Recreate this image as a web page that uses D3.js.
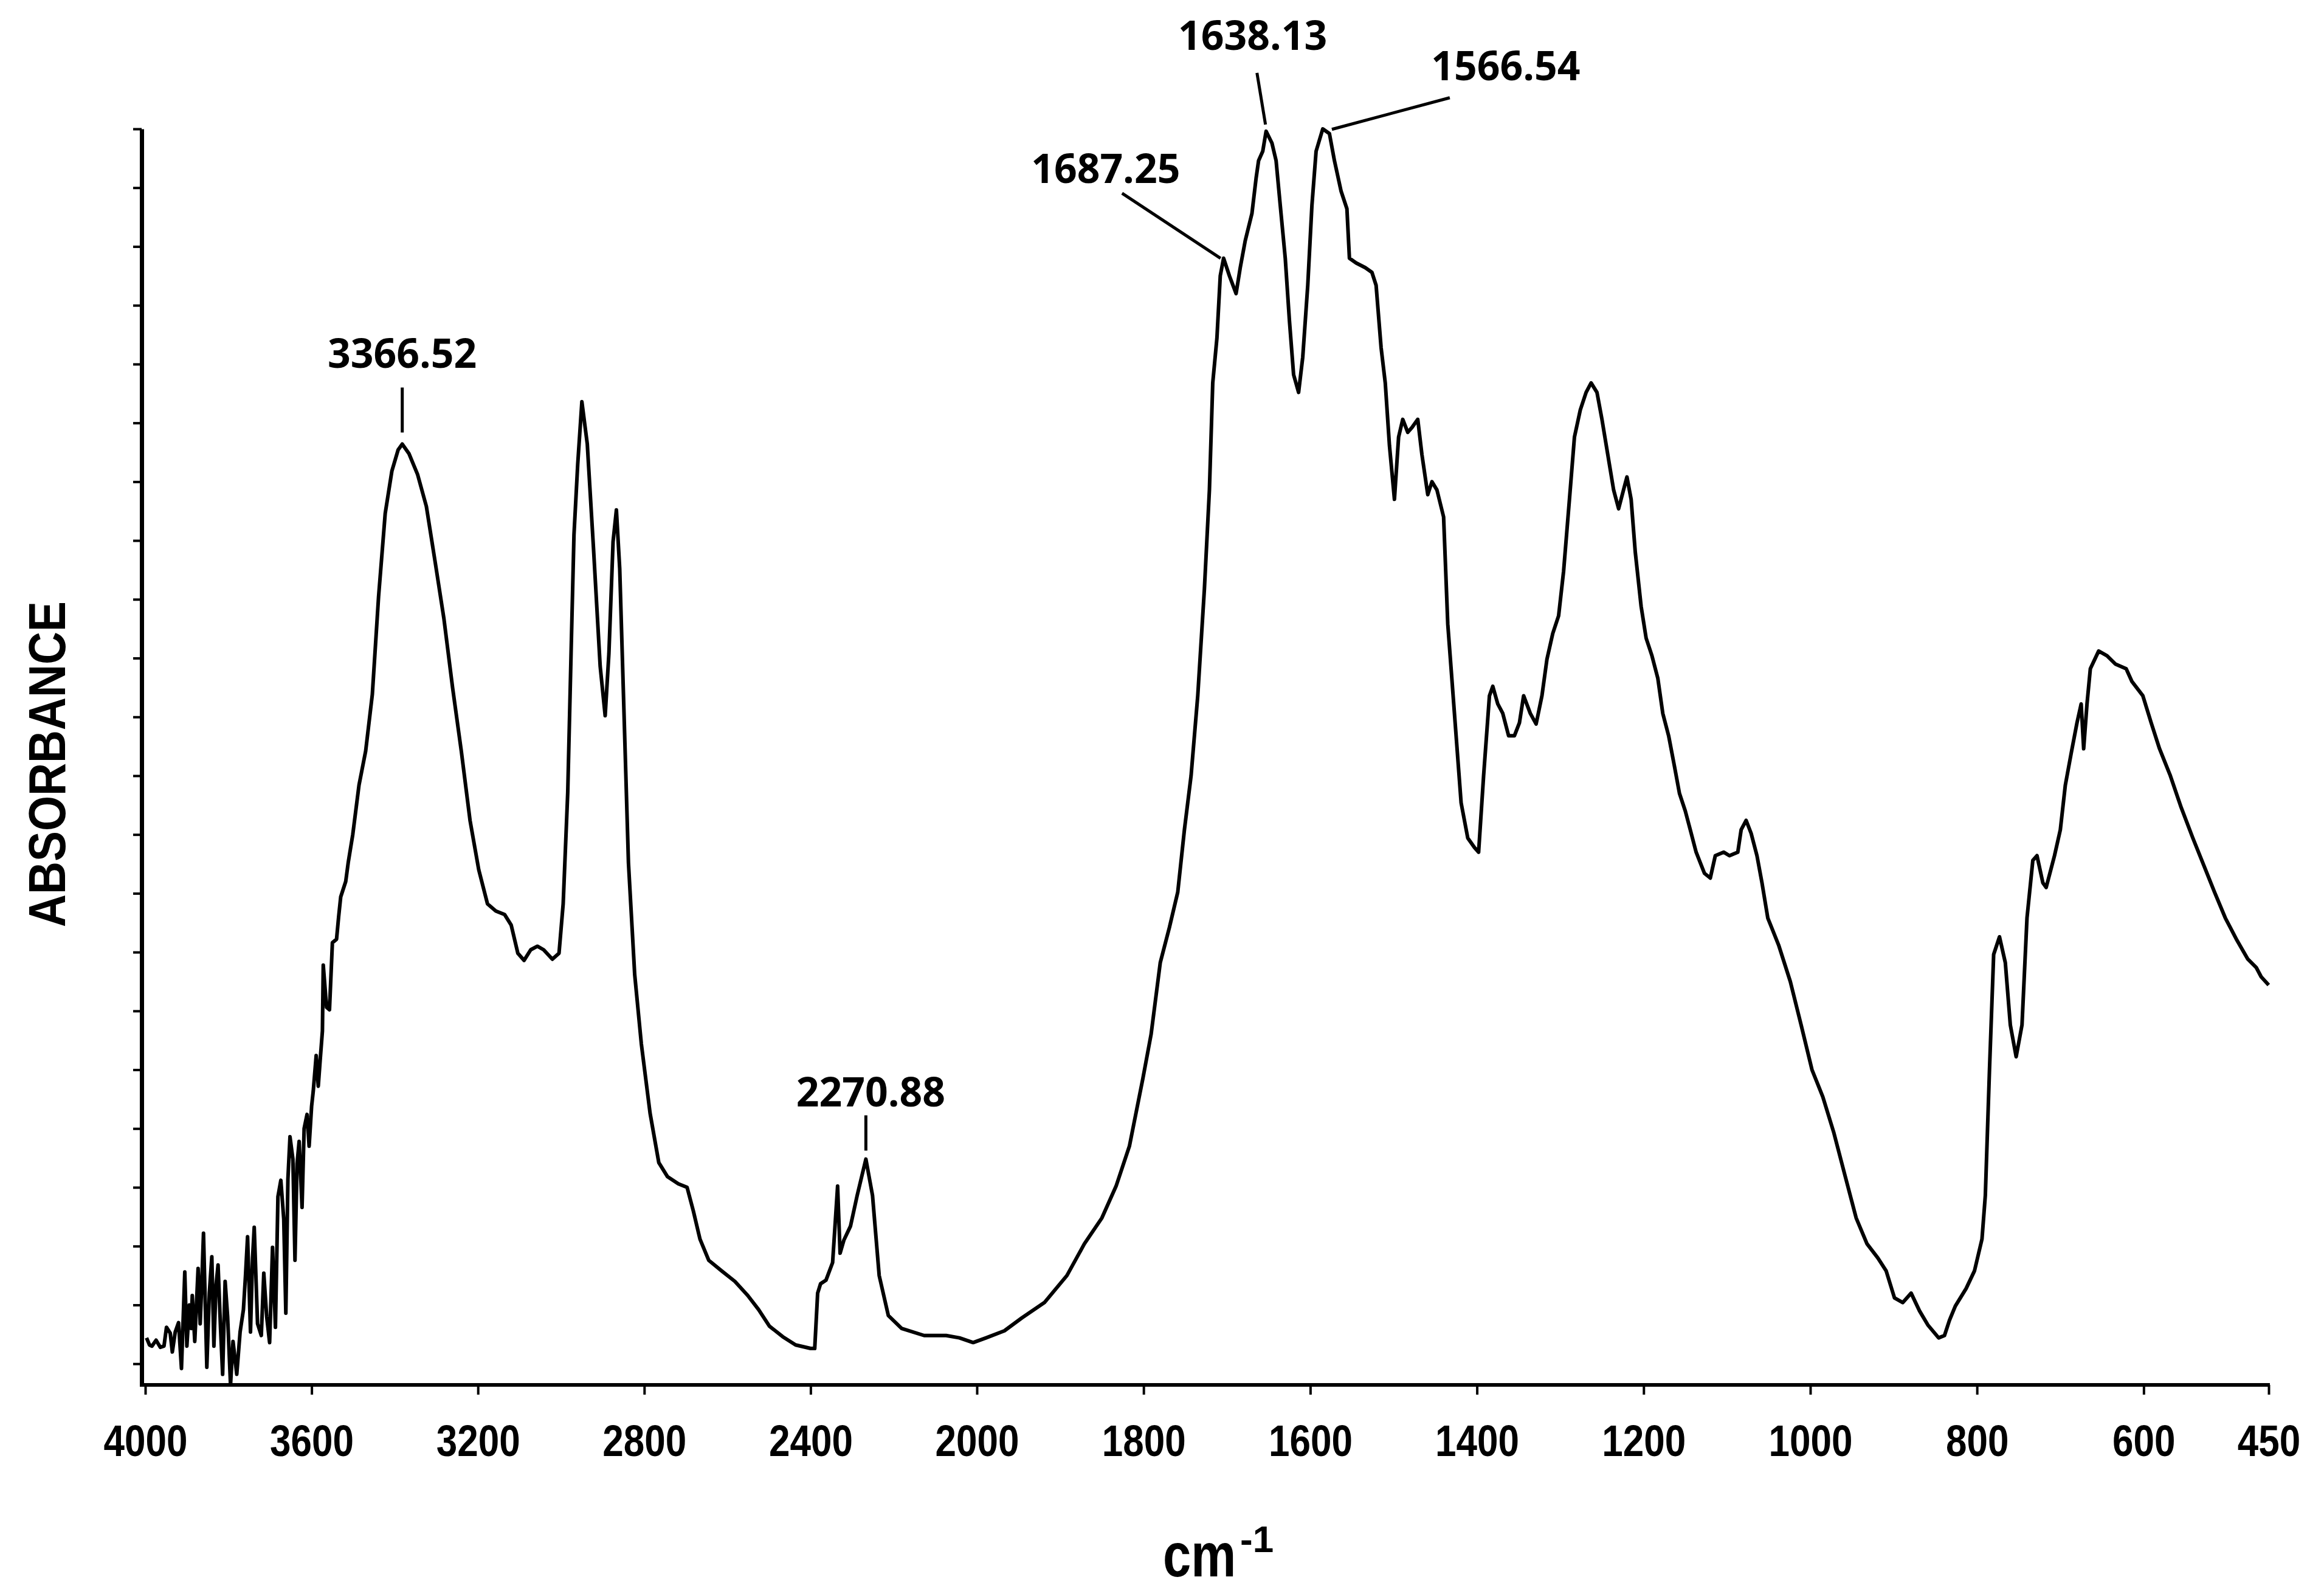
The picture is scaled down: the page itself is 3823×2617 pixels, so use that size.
<!DOCTYPE html>
<html>
<head>
<meta charset="utf-8">
<script src="https://cdn.jsdelivr.net/npm/d3@7"></script>
<style>
  body { margin: 0; background: #fff; }
  svg { display: block; }
</style>
</head>
<body>
<div id="chart"></div>
<script>
// Bottom axis ticks, wavenumber in cm-1 (axis is split: 4000-2000 at half the scale of 2000-450)
var xTicks = [4000, 3600, 3200, 2800, 2400, 2000, 1800, 1600, 1400, 1200, 1000, 800, 600, 450];

// Left axis ticks, absorbance (unlabelled in the original)
var yTicks = [0, 0.05, 0.1, 0.15, 0.2, 0.25, 0.3, 0.35, 0.4, 0.45, 0.5, 0.55,
              0.6, 0.65, 0.7, 0.75, 0.8, 0.85, 0.9, 0.95, 1.0, 1.05];

// Peak annotations: printed text and the wavenumber where the pointer lands
var peakLabels = ["3366.52", "2270.88", "1687.25", "1638.13", "1566.54"];
var peakAt = [3382, 2267, 1704, 1653, 1577];

// Spectrum: [wavenumber, absorbance]
var spectrum = [
    [3997, 0.022], [3990, 0.016], [3984, 0.015], [3974, 0.020], [3964, 0.014], [3955, 0.015],
    [3949, 0.031], [3940, 0.026], [3935, 0.010], [3928, 0.027], [3920, 0.035], [3913, -0.004],
    [3905, 0.078], [3900, 0.015], [3894, 0.050], [3890, 0.030], [3887, 0.058], [3881, 0.019],
    [3873, 0.081], [3868, 0.034], [3864, 0.070], [3860, 0.111], [3852, -0.003], [3846, 0.060],
    [3840, 0.091], [3835, 0.015], [3830, 0.066], [3825, 0.084], [3819, 0.030], [3814, -0.009],
    [3808, 0.070], [3802, 0.040], [3795, -0.018], [3789, 0.019], [3780, -0.009], [3772, 0.027],
    [3764, 0.046], [3759, 0.075], [3754, 0.108], [3747, 0.027], [3742, 0.090], [3738, 0.116],
    [3730, 0.034], [3721, 0.024], [3715, 0.077], [3708, 0.040], [3701, 0.018], [3694, 0.099],
    [3687, 0.031], [3681, 0.142], [3674, 0.156], [3667, 0.123], [3662, 0.043], [3657, 0.157],
    [3652, 0.193], [3645, 0.174], [3640, 0.088], [3635, 0.170], [3630, 0.189], [3623, 0.133],
    [3618, 0.200], [3611, 0.212], [3606, 0.185], [3600, 0.219], [3596, 0.232], [3589, 0.262],
    [3584, 0.236], [3579, 0.260], [3574, 0.283], [3572, 0.339], [3564, 0.303], [3557, 0.301],
    [3550, 0.358], [3540, 0.361], [3535, 0.380], [3530, 0.397], [3518, 0.410], [3512, 0.426],
    [3501, 0.450], [3486, 0.492], [3470, 0.521], [3454, 0.569], [3439, 0.652], [3423, 0.723],
    [3407, 0.759], [3392, 0.777], [3382, 0.782], [3366, 0.774], [3345, 0.756], [3324, 0.729],
    [3303, 0.682], [3282, 0.634], [3261, 0.575], [3240, 0.521], [3219, 0.462], [3198, 0.420],
    [3177, 0.391], [3157, 0.385], [3136, 0.382], [3120, 0.373], [3104, 0.349], [3089, 0.343],
    [3073, 0.352], [3057, 0.355], [3042, 0.352], [3021, 0.344], [3005, 0.349], [2995, 0.391],
    [2984, 0.486], [2976, 0.604], [2969, 0.705], [2960, 0.765], [2950, 0.818], [2937, 0.782],
    [2922, 0.693], [2906, 0.593], [2894, 0.551], [2885, 0.604], [2875, 0.699], [2867, 0.726],
    [2859, 0.676], [2849, 0.557], [2838, 0.426], [2823, 0.331], [2807, 0.272], [2786, 0.213],
    [2765, 0.171], [2744, 0.159], [2718, 0.153], [2697, 0.150], [2682, 0.130], [2666, 0.106],
    [2645, 0.088], [2614, 0.079], [2582, 0.070], [2551, 0.058], [2525, 0.046], [2499, 0.032],
    [2467, 0.023], [2436, 0.016], [2400, 0.013], [2390, 0.013], [2383, 0.060], [2376, 0.068],
    [2363, 0.071], [2347, 0.086], [2342, 0.113], [2335, 0.151], [2329, 0.094], [2320, 0.105],
    [2304, 0.117], [2288, 0.143], [2267, 0.174], [2251, 0.143], [2235, 0.075], [2213, 0.041],
    [2181, 0.030], [2127, 0.024], [2074, 0.024], [2042, 0.022], [2009, 0.018], [1989, 0.022],
    [1967, 0.028], [1946, 0.039], [1919, 0.052], [1892, 0.075], [1871, 0.102], [1850, 0.124],
    [1833, 0.151], [1817, 0.185], [1801, 0.242], [1791, 0.280], [1780, 0.341], [1769, 0.371],
    [1759, 0.401], [1751, 0.454], [1743, 0.500], [1735, 0.568], [1727, 0.659], [1721, 0.743],
    [1717, 0.834], [1712, 0.872], [1708, 0.925], [1704, 0.940], [1697, 0.925], [1689, 0.910],
    [1684, 0.932], [1678, 0.955], [1670, 0.978], [1665, 1.008], [1662, 1.023], [1657, 1.031],
    [1653, 1.048], [1646, 1.038], [1641, 1.023], [1636, 0.985], [1630, 0.940], [1625, 0.887],
    [1620, 0.841], [1614, 0.826], [1609, 0.856], [1603, 0.917], [1598, 0.985], [1593, 1.031],
    [1585, 1.050], [1577, 1.046], [1571, 1.023], [1563, 0.997], [1556, 0.982], [1553, 0.940],
    [1545, 0.936], [1534, 0.932], [1526, 0.928], [1521, 0.917], [1515, 0.864], [1510, 0.834],
    [1505, 0.781], [1499, 0.735], [1494, 0.788], [1489, 0.803], [1483, 0.792], [1478, 0.796],
    [1471, 0.803], [1466, 0.773], [1459, 0.739], [1454, 0.750], [1448, 0.743], [1440, 0.720],
    [1435, 0.629], [1427, 0.553], [1419, 0.477], [1411, 0.447], [1403, 0.439], [1398, 0.435],
    [1392, 0.500], [1385, 0.568], [1381, 0.576], [1375, 0.561], [1369, 0.553], [1362, 0.534],
    [1355, 0.534], [1349, 0.545], [1344, 0.568], [1336, 0.553], [1329, 0.544], [1322, 0.568],
    [1316, 0.599], [1309, 0.621], [1302, 0.636], [1296, 0.674], [1289, 0.735], [1283, 0.788],
    [1276, 0.811], [1269, 0.826], [1263, 0.834], [1256, 0.826], [1250, 0.803], [1243, 0.773],
    [1236, 0.743], [1230, 0.727], [1223, 0.746], [1220, 0.754], [1215, 0.735], [1210, 0.690],
    [1203, 0.644], [1197, 0.617], [1190, 0.602], [1183, 0.583], [1177, 0.553], [1170, 0.534],
    [1163, 0.508], [1157, 0.485], [1150, 0.470], [1144, 0.454], [1137, 0.435], [1127, 0.417],
    [1120, 0.413], [1114, 0.432], [1104, 0.435], [1097, 0.432], [1087, 0.435], [1083, 0.454],
    [1077, 0.462], [1071, 0.451], [1064, 0.432], [1058, 0.409], [1051, 0.379], [1038, 0.356],
    [1024, 0.325], [1011, 0.288], [998, 0.250], [985, 0.227], [972, 0.197], [958, 0.159],
    [945, 0.124], [932, 0.102], [919, 0.090], [909, 0.079], [899, 0.056], [889, 0.052],
    [879, 0.060], [869, 0.045], [859, 0.033], [846, 0.022], [839, 0.024], [833, 0.037],
    [826, 0.049], [813, 0.064], [803, 0.079], [794, 0.106], [790, 0.143], [785, 0.250],
    [780, 0.348], [773, 0.363], [766, 0.341], [760, 0.288], [753, 0.261], [746, 0.288],
    [740, 0.379], [733, 0.428], [728, 0.432], [721, 0.409], [717, 0.405], [707, 0.432],
    [700, 0.454], [694, 0.492], [687, 0.519], [680, 0.545], [675, 0.561], [672, 0.523],
    [668, 0.561], [664, 0.591], [654, 0.606], [644, 0.602], [634, 0.595], [621, 0.591],
    [614, 0.580], [601, 0.568], [591, 0.545], [581, 0.523], [568, 0.500], [555, 0.473],
    [541, 0.447], [528, 0.424], [515, 0.401], [502, 0.379], [488, 0.360], [475, 0.344],
    [465, 0.337], [459, 0.329], [450, 0.322]
];

// Label/pointer offsets (px) from each annotated point
var annoLayout = [
    { tx: 0,    ty: -125, x1: 0,    y1: -93,  x2: 0,  y2: -19 },
    { tx: 8,    ty: -87,  x1: 0,    y1: -72,  x2: 0,  y2: -14 },
    { tx: -194, ty: -124, x1: -167, y1: -107, x2: -5, y2: 0 },
    { tx: -22,  ty: -134, x1: -15,  y1: -96,  x2: -1, y2: -11 },
    { tx: 290,  ty: -88,  x1: 198,  y1: -59,  x2: 4,  y2: -7 }
];

var width = 3823, height = 2617;
// no narrow face installed, so bold sans is squeezed to the original widths
var axisFont = "'Liberation Sans', Arial, sans-serif";

var svg = d3.select("#chart")
    .append("svg")
    .attr("width", width)
    .attr("height", height)
    .style("background", "#fff");

// piecewise scale: the original compresses the 4000-2000 half
var x = d3.scaleLinear()
    .domain([4000, 2000, 450])
    .range([239, 1607, 3732]);

var y = d3.scaleLinear()
    .domain([-0.018, 1.05])
    .range([2278, 212]);

// x axis
var xAxis = svg.append("g")
    .attr("transform", "translate(0," + y(-0.018) + ")")
    .call(d3.axisBottom(x)
        .tickValues(xTicks)
        .tickSize(16)
        .tickSizeOuter(0)
        .tickFormat(function(d) { return d; }));

xAxis.select(".domain")
    .attr("d", "M" + (x(4000) - 9) + ",0H" + (x(450) + 2))
    .attr("stroke", "#000")
    .attr("stroke-width", 6);
xAxis.selectAll(".tick line")
    .attr("stroke", "#000")
    .attr("stroke-width", 4);
xAxis.selectAll(".tick text")
    .attr("y", 117)
    .attr("dy", 0)
    .attr("fill", "#000")
    .attr("textLength", function(d) { return String(d).length * 34.5; })
    .attr("lengthAdjust", "spacingAndGlyphs")
    .style("font-family", axisFont)
    .style("font-weight", "bold")
    .style("font-size", "72px");

// y axis, ticks only
var yAxis = svg.append("g")
    .attr("transform", "translate(" + (x(4000) - 6) + ",0)")
    .call(d3.axisLeft(y)
        .tickValues(yTicks)
        .tickSize(14)
        .tickSizeOuter(0)
        .tickFormat(""));

yAxis.select(".domain")
    .attr("stroke", "#000")
    .attr("stroke-width", 7);
yAxis.selectAll(".tick line")
    .attr("stroke", "#000")
    .attr("stroke-width", 4);

// the spectrum
var line = d3.line()
    .x(function(d) { return x(d[0]); })
    .y(function(d) { return y(d[1]); });

svg.append("path")
    .datum(spectrum)
    .attr("d", line)
    .attr("fill", "none")
    .attr("stroke", "#000")
    .attr("stroke-width", 6)
    .attr("stroke-linejoin", "round");

// peak labels with their pointers
function absorbanceAt(w) {
    var best = spectrum[0];
    spectrum.forEach(function(p) {
        if (Math.abs(p[0] - w) < Math.abs(best[0] - w)) best = p;
    });
    return best[1];
}

peakLabels.forEach(function(label, i) {
    var px = x(peakAt[i]);
    var py = y(absorbanceAt(peakAt[i]));
    var l = annoLayout[i];

    svg.append("line")
        .attr("x1", px + l.x1)
        .attr("y1", py + l.y1)
        .attr("x2", px + l.x2)
        .attr("y2", py + l.y2)
        .attr("stroke", "#000")
        .attr("stroke-width", 5);

    svg.append("text")
        .attr("x", px + l.tx)
        .attr("y", py + l.ty)
        .attr("text-anchor", "middle")
        .attr("fill", "#000")
        .style("font-family", "'Open Sans', 'Liberation Sans', sans-serif")
        .style("font-weight", "bold")
        .style("font-size", "66px")
        .text(label);
});

// axis titles
svg.append("text")
    .attr("transform", "translate(107,1257) rotate(-90)")
    .attr("text-anchor", "middle")
    .attr("fill", "#000")
    .attr("textLength", 536)
    .attr("lengthAdjust", "spacingAndGlyphs")
    .style("font-family", axisFont)
    .style("font-weight", "bold")
    .style("font-size", "86px")
    .text("ABSORBANCE");

// cm with a horizontal squeeze, superscript set just after it
svg.append("text")
    .attr("transform", "translate(1913,2593) scale(0.816,1)")
    .attr("fill", "#000")
    .style("font-family", axisFont)
    .style("font-weight", "bold")
    .style("font-size", "102px")
    .text("cm");

svg.append("text")
    .attr("x", 2040)
    .attr("y", 2553)
    .attr("fill", "#000")
    .style("font-family", axisFont)
    .style("font-weight", "bold")
    .style("font-size", "62px")
    .text("-1");
</script>
</body>
</html>
